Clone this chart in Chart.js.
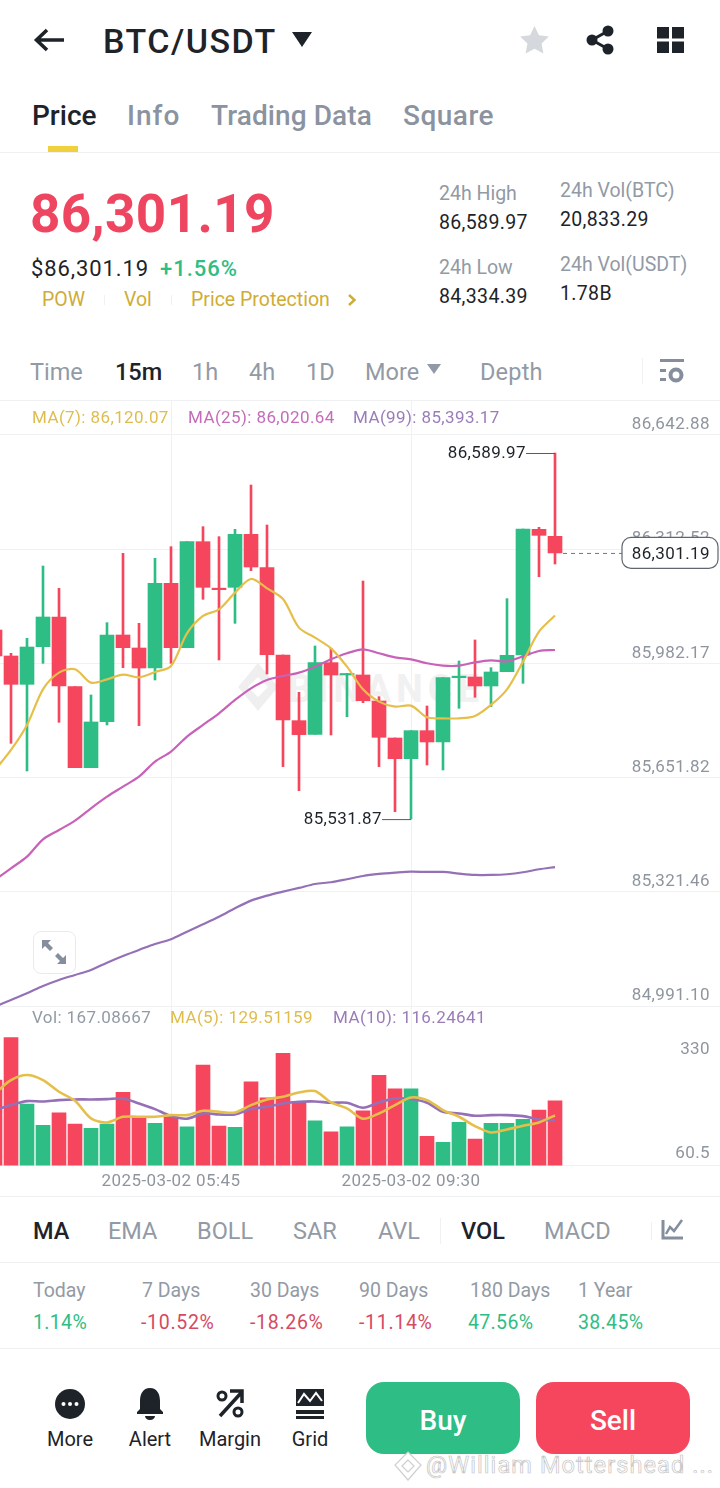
<!DOCTYPE html>
<html><head><meta charset="utf-8">
<script src="https://cdn.jsdelivr.net/npm/chart.js@4"></script>
<style>
html,body{margin:0;padding:0;background:#fff;width:720px;height:1488px;overflow:hidden;font-family:Roboto,sans-serif}
#stage{position:relative;width:720px;height:1488px;overflow:hidden}
.t{position:absolute;white-space:nowrap;transform:translateY(-50%);line-height:1;margin-top:1px}
.c{transform:translate(-50%,-50%)}
.ln{position:absolute;left:0;width:720px;height:1px;background:#eef0f2}
.g{color:#929aa5}.d{color:#1e2329}
.b{position:absolute;background:#f0f1f3;width:1px}
.n{letter-spacing:.35px}
canvas{position:absolute;left:-13px}
svg{position:absolute}
</style></head><body><div id="stage">

<svg style="left:32px;top:26px" width="36" height="28" viewBox="0 0 36 28"><path d="M32 14H5M15 4L4.500 14L15 24" fill="none" stroke="#1e2329" stroke-width="3.600"/></svg>
<div class="t d" style="left:103px;top:40px;font-size:34px;font-weight:500;letter-spacing:1.500px">BTC/USDT</div>
<svg style="left:292px;top:32px" width="20" height="15"><path d="M0 0H20L10 15Z" fill="#1e2329"/></svg>
<svg style="left:518px;top:24px" width="33" height="32" viewBox="0 0 24 24"><path d="M12 1.500l3.300 6.900 7.500 1-5.500 5.200 1.400 7.500L12 18.500l-6.700 3.600 1.400-7.500L1.200 9.400l7.500-1z" fill="#d5d8dc"/></svg>
<svg style="left:584px;top:24px" width="32" height="32" viewBox="0 0 32 32"><path d="M24 7L8 16L24 25" fill="none" stroke="#1e2329" stroke-width="3"/><circle cx="24" cy="7" r="5.500" fill="#1e2329"/><circle cx="8" cy="16" r="5.500" fill="#1e2329"/><circle cx="24" cy="25" r="5.500" fill="#1e2329"/></svg>
<svg style="left:657px;top:27px" width="27" height="26"><rect width="12" height="11.500" fill="#1e2329"/><rect x="15" width="12" height="11.500" fill="#1e2329"/><rect y="14.500" width="12" height="11.500" fill="#1e2329"/><rect x="15" y="14.500" width="12" height="11.500" fill="#1e2329"/></svg>

<div class="t d" style="left:32px;top:115px;font-size:28px;font-weight:500">Price</div>
<div class="t" style="left:127px;top:115px;font-size:28px;font-weight:500;color:#8b93a0;letter-spacing:1px">Info</div>
<div class="t" style="left:211px;top:115px;font-size:28px;font-weight:500;color:#8b93a0;letter-spacing:.1px">Trading Data</div>
<div class="t" style="left:403px;top:115px;font-size:28px;font-weight:500;color:#8b93a0;letter-spacing:.5px">Square</div>
<div style="position:absolute;left:48px;top:146px;width:30px;height:6px;background:#f0d03c"></div>
<div class="ln" style="top:152px"></div>

<div class="t" style="left:30px;top:213px;font-size:53px;font-weight:700;color:#ee4560;letter-spacing:.4px">86,301.19</div>
<div class="t d" style="left:31px;top:268px;font-size:22px;letter-spacing:.9px">$86,301.19</div>
<div class="t" style="left:160px;top:268px;font-size:22px;color:#2ebd85;font-weight:500;letter-spacing:1px">+1.56%</div>
<div class="t" style="left:42px;top:299px;font-size:19.500px;color:#cfac35">POW</div>
<div class="t" style="left:124px;top:299px;font-size:19.500px;color:#cfac35">Vol</div>
<div class="t" style="left:191px;top:299px;font-size:19.500px;color:#cfac35">Price Protection</div>
<div class="b" style="left:104px;top:295px;height:10px"></div>
<div class="b" style="left:171px;top:295px;height:10px"></div>
<svg style="left:347px;top:294px" width="10" height="12"><path d="M2 1L7.500 6L2 11" fill="none" stroke="#cfac35" stroke-width="2.400"/></svg>

<div class="t g" style="left:439px;top:193px;font-size:19.500px">24h High</div>
<div class="t d n" style="left:439px;top:222px;font-size:19.500px">86,589.97</div>
<div class="t g" style="left:560px;top:190px;font-size:19.500px">24h Vol(BTC)</div>
<div class="t d n" style="left:560px;top:219px;font-size:19.500px">20,833.29</div>
<div class="t g" style="left:439px;top:267px;font-size:19.500px">24h Low</div>
<div class="t d n" style="left:439px;top:296px;font-size:19.500px">84,334.39</div>
<div class="t g" style="left:560px;top:264px;font-size:19.500px">24h Vol(USDT)</div>
<div class="t d n" style="left:560px;top:293px;font-size:19.500px">1.78B</div>

<div class="t g" style="left:30px;top:372px;font-size:23.500px">Time</div>
<div class="t d" style="left:115px;top:372px;font-size:23.500px;font-weight:500">15m</div>
<div class="t g" style="left:192px;top:372px;font-size:23.500px">1h</div>
<div class="t g" style="left:249px;top:372px;font-size:23.500px">4h</div>
<div class="t g" style="left:306px;top:372px;font-size:23.500px">1D</div>
<div class="t g" style="left:365px;top:372px;font-size:23.500px">More</div>
<svg style="left:427px;top:364px" width="14" height="10"><path d="M0 0H14L7 10Z" fill="#929aa5"/></svg>
<div class="t g" style="left:480px;top:372px;font-size:23.500px;letter-spacing:.2px">Depth</div>
<div class="b" style="left:642px;top:358px;height:26px"></div>
<svg style="left:660px;top:359px" width="25" height="25"><rect width="24" height="3" fill="#848e9c"/><rect y="10" width="6" height="3" fill="#848e9c"/><rect y="19" width="6" height="3" fill="#848e9c"/><circle cx="16" cy="16" r="5.500" fill="none" stroke="#848e9c" stroke-width="4"/></svg>

<div class="ln" style="top:400px"></div>

<!-- watermark behind the chart -->
<svg style="left:236px;top:661px" width="44" height="52" viewBox="0 0 44 52"><path d="M22 2L42 26L22 50L2 26Z M22 16L12 26L22 36L32 26Z" fill="#efefef" fill-rule="evenodd"/></svg>
<div class="t" style="left:288px;top:688px;font-size:38px;font-weight:700;color:#f1f1f1;letter-spacing:5px">BINANCE</div>

<canvas id="priceChart" width="736" height="608" style="top:400px"></canvas>
<canvas id="volChart" width="736" height="191" style="top:1007px"></canvas>

<div class="t" style="left:32px;top:416px;font-size:17px;letter-spacing:.400px;color:#dfbd4d">MA(7): 86,120.07</div>
<div class="t" style="left:188px;top:416px;font-size:17px;letter-spacing:.400px;color:#c56cb9">MA(25): 86,020.64</div>
<div class="t" style="left:353px;top:416px;font-size:17px;letter-spacing:.400px;color:#9a7cb8">MA(99): 85,393.17</div>

<div style="position:absolute;left:33px;top:931px;width:41px;height:41px;border:1.500px solid #e8eaec;border-radius:8px;background:rgba(255,255,255,.85)"></div>
<svg style="left:41px;top:939px" width="26" height="26" viewBox="0 0 26 26"><path d="M1 1H10L7 4L12 9L9 12L4 7L1 10Z M25 25H16L19 22L14 17L17 14L22 19L25 16Z" fill="#848e9c"/></svg>

<div class="t g" style="left:32px;top:1016px;font-size:17px;letter-spacing:.400px">Vol: 167.08667</div>
<div class="t" style="left:170px;top:1016px;font-size:17px;letter-spacing:.400px;color:#dfbd4d">MA(5): 129.51159</div>
<div class="t" style="left:333px;top:1016px;font-size:17px;letter-spacing:.400px;color:#9a7cb8">MA(10): 116.24641</div>

<div class="ln" style="top:1196px"></div>
<div class="t d" style="left:33px;top:1231px;font-size:23.500px;font-weight:500">MA</div>
<div class="t g" style="left:108px;top:1231px;font-size:23.500px">EMA</div>
<div class="t g" style="left:197px;top:1231px;font-size:23.500px">BOLL</div>
<div class="t g" style="left:293px;top:1231px;font-size:23.500px">SAR</div>
<div class="t g" style="left:378px;top:1231px;font-size:23.500px">AVL</div>
<div class="b" style="left:440px;top:1218px;height:26px"></div>
<div class="t d" style="left:461px;top:1231px;font-size:23.500px;font-weight:500">VOL</div>
<div class="t g" style="left:544px;top:1231px;font-size:23.500px">MACD</div>
<div class="b" style="left:651px;top:1222px;height:18px"></div>
<svg style="left:661px;top:1219px" width="23" height="23" viewBox="0 0 23 23"><path d="M2 1V19H22" fill="none" stroke="#848e9c" stroke-width="3"/><path d="M5 15L9 8L13 12L21 1" fill="none" stroke="#848e9c" stroke-width="2.500"/></svg>
<div class="ln" style="top:1262px"></div>

<div class="t g" style="left:33px;top:1290px;font-size:19.500px">Today</div>
<div class="t g" style="left:142px;top:1290px;font-size:19.500px">7 Days</div>
<div class="t g" style="left:250px;top:1290px;font-size:19.500px">30 Days</div>
<div class="t g" style="left:359px;top:1290px;font-size:19.500px">90 Days</div>
<div class="t g" style="left:470px;top:1290px;font-size:19.500px">180 Days</div>
<div class="t g" style="left:578px;top:1290px;font-size:19.500px">1 Year</div>
<div class="t n" style="left:33px;top:1322px;font-size:19.500px;color:#2ebd85">1.14%</div>
<div class="t" style="left:141px;top:1322px;font-size:19.500px;color:#d64a62;letter-spacing:.7px">-10.52%</div>
<div class="t" style="left:250px;top:1322px;font-size:19.500px;color:#d64a62;letter-spacing:.7px">-18.26%</div>
<div class="t" style="left:359px;top:1322px;font-size:19.500px;color:#d64a62;letter-spacing:.7px">-11.14%</div>
<div class="t n" style="left:468px;top:1322px;font-size:19.500px;color:#2ebd85">47.56%</div>
<div class="t n" style="left:578px;top:1322px;font-size:19.500px;color:#2ebd85">38.45%</div>
<div class="ln" style="top:1348px"></div>

<svg style="left:55px;top:1389px" width="30" height="30"><circle cx="15" cy="15" r="15" fill="#1e2329"/><circle cx="8.500" cy="15" r="2" fill="#fff"/><circle cx="15" cy="15" r="2" fill="#fff"/><circle cx="21.500" cy="15" r="2" fill="#fff"/></svg>
<svg style="left:135px;top:1388px" width="30" height="32" viewBox="0 0 30 32"><path d="M15 0c7 0 10 6 10 13v8l3 3v2H2v-2l3-3v-8C5 6 8 0 15 0z" fill="#1e2329"/><path d="M10 28h10c0 2-2 4-5 4s-5-2-5-4z" fill="#1e2329"/></svg>
<svg style="left:216px;top:1389px" width="28" height="30" viewBox="0 0 28 30"><circle cx="6" cy="7" r="4" fill="none" stroke="#1e2329" stroke-width="3"/><circle cx="22" cy="23" r="4" fill="none" stroke="#1e2329" stroke-width="3"/><path d="M4 27L25 4M14 2H26V14" fill="none" stroke="#1e2329" stroke-width="3.500"/></svg>
<svg style="left:296px;top:1389px" width="28" height="30" viewBox="0 0 28 30"><path d="M0 0H28V17H0Z" fill="#1e2329"/><path d="M2 14L8 5L14 12L20 4L26 12" fill="none" stroke="#fff" stroke-width="2"/><rect y="21" width="28" height="4" fill="#1e2329"/><rect y="27" width="28" height="3" fill="#1e2329"/></svg>
<div class="t c d" style="left:70px;top:1438px;font-size:20px">More</div>
<div class="t c d" style="left:150px;top:1438px;font-size:20px">Alert</div>
<div class="t c d" style="left:230px;top:1438px;font-size:20px">Margin</div>
<div class="t c d" style="left:310px;top:1438px;font-size:20px">Grid</div>

<div style="position:absolute;left:366px;top:1382px;width:154px;height:72px;border-radius:18px;background:#2ebd85"></div>
<div style="position:absolute;left:536px;top:1382px;width:154px;height:72px;border-radius:18px;background:#f6465d"></div>
<div class="t c" style="left:443px;top:1420px;font-size:28px;font-weight:500;color:#fff">Buy</div>
<div class="t c" style="left:613px;top:1420px;font-size:28px;font-weight:500;color:#fff">Sell</div>

<svg style="left:394px;top:1451px" width="28" height="30" viewBox="0 0 28 30"><path d="M14 1L27 14L14 29L1 14Z M14 9L8 15L14 21L20 15Z" fill="#fff" stroke="#cfcfcf" stroke-width="1.200" fill-rule="evenodd"/></svg>
<div class="t" style="left:426px;top:1465px;font-size:23.500px;color:#fff;-webkit-text-stroke:.7px #c4c4c4;letter-spacing:1.100px">@William Mottershead ...</div>

</div>
<script>
// 15-minute candle times, 2025-03-02
const times = ['03:00','03:15','03:30','03:45','04:00','04:15','04:30','04:45','05:00','05:15','05:30','05:45',
  '06:00','06:15','06:30','06:45','07:00','07:15','07:30','07:45','08:00','08:15','08:30','08:45',
  '09:00','09:15','09:30','09:45','10:00','10:15','10:30','10:45','11:00','11:15','11:30','11:45'];
// room to the right of the last candle (empty slots on the time axis)
const emptySlots = ['','','','','','','','','',''];
const labelledTimes = ['05:45','09:30'];
const labelDate = '2025-03-02';

const open = [86078.4,86003.3,85921.4,86030.3,86116.0,85914.7,85680.6,85813.5,86064.0,86026.4,85968.6,86213.3,
  86027.4,86333.7,86198.9,86201.8,86354.9,86258.6,86006.2,85816.4,85776.9,85984.1,85948.4,85948.4,
  85873.2,85766.3,85706.6,85787.5,85754.8,85940.7,85942.6,85916.6,85958.0,86006.2,86369.4,86349.2];
const close = [86003.3,85921.4,86029.3,86116.0,85916.6,85680.6,85812.6,86064.0,86027.4,85968.6,86213.3,86027.4,
  86333.7,86201.8,86195.0,86354.9,86260.5,86007.2,85818.4,85776.0,85984.1,85948.4,85952.3,85874.2,
  85768.3,85706.6,85787.5,85754.8,85940.7,85944.6,85916.6,85957.1,86005.3,86370.3,86352.0,86301.19];
const high = [86078.4,86011.0,86054.4,86263.4,86198.9,85914.7,85890.6,86099.6,86300.0,86097.7,86285.6,86319.3,
  86333.7,86377.1,86348.2,86369.4,86497.5,86381.9,86006.2,85898.3,86032.2,86025.5,85953.2,86220.0,
  85885.8,85766.3,85787.5,85858.8,85940.7,85988.9,86049.6,85969.6,86169.0,86370.3,86375.2,86589.97];
const low = [86003.3,85750.9,85670.9,85982.1,85811.6,85680.6,85680.6,85803.9,85969.6,85802.0,85934.0,85982.1,
  86027.4,86167.1,85991.8,86097.7,86249.9,85951.3,85683.5,85614.1,85776.9,85775.0,85828.0,85868.4,
  85683.5,85553.4,85531.87,85688.3,85673.8,85852.1,85883.9,85856.9,85958.0,85924.3,86232.6,86269.2];

const ma7 = [85673.9,85731.7,85804.0,85907.0,85955.2,85964.8,85926.3,85935.9,85949.4,85941.7,85957.1,85974.5,
  86068.9,86119.0,86138.2,86186.4,86225.9,86198.9,86168.1,86085.2,86056.4,86025.5,85972.5,85907.0,
  85871.4,85856.9,85859.8,85826.1,85823.2,85823.2,85830.0,85861.8,85907.0,85987.0,86073.7,86120.07];
const ma25 = [85356.0,85389.7,85423.4,85473.5,85500.5,85527.5,85563.2,85596.8,85625.7,85654.6,85698.0,85726.9,
  85770.2,85804.0,85837.7,85876.2,85909.9,85934.0,85945.6,85955.2,85972.5,85993.7,86011.1,86022.6,
  86011.1,85999.5,85993.7,85982.2,85975.4,85975.4,85985.0,85990.8,85987.9,86002.4,86017.8,86020.64];
const ma99 = [84989.8,85009.2,85028.5,85049.6,85067.0,85081.4,85095.9,85117.0,85136.3,85153.7,85171.0,85184.6,
  85206.6,85228.0,85249.9,85274.2,85296.2,85310.6,85322.2,85332.9,85344.4,85349.3,85358.0,85367.5,
  85373.3,85377.1,85380.0,85379.1,85379.1,85374.2,85370.4,85370.4,85372.5,85378.2,85386.9,85393.17];

const volume = [220.5,330.0,158.6,103.6,136.2,107.0,95.8,107.0,188.7,124.2,108.7,125.9,
  100.1,259.1,101.8,98.4,216.2,174.9,289.3,164.6,115.6,87.2,100.1,141.4,
  232.5,198.1,198.1,75.2,59.7,111.3,68.3,108.7,108.7,119.0,143.1,167.09];
const volMa5 = [186.1,220.5,233.4,220.5,190.4,167.2,121.6,111.3,125.9,125.9,125.9,130.2,
  130.2,141.4,138.8,137.1,156.0,170.6,177.5,188.7,192.1,162.9,147.4,120.8,
  134.5,156.0,175.8,168.9,143.1,125.9,101.9,85.5,93.3,102.7,111.3,129.51];
const volMa10 = [143.1,156.0,166.3,165.4,168.9,170.6,170.6,171.5,173.2,160.3,145.7,127.6,
  120.8,134.5,131.9,131.9,145.7,151.7,160.3,164.6,165.4,162.0,162.0,149.1,
  162.9,173.2,171.5,162.0,138.8,134.5,128.5,130.2,130.2,127.6,119.0,116.25];

const priceTicks = [86642.88,86312.52,85982.17,85651.82,85321.46,84991.10];
const volTicks = [330,60.5];

const GREEN='#2ebd85', RED='#f6465d', YEL='#e6bf4a', PINK='#c862b8', PUR='#9470b6';
const TICK='#8f959e', GRID='#f0f1f3';
const FONT={family:'Roboto',size:17};
const labels = times.concat(emptySlots);
const colors = open.map((o,i)=> close[i]>=o ? GREEN : RED);
const fmt = v => v.toLocaleString('en-US',{minimumFractionDigits:2,maximumFractionDigits:2});

const spacing = { id:'spacing', beforeDraw(c){ c.ctx.letterSpacing='0.4px'; } };
const keepTimes = s => { s.ticks = labelledTimes.map(t=>({value:times.indexOf(t)})); };
const flatY = s => { s.width=0; s.paddingTop=0; s.paddingBottom=0; };
const flatX = s => { s.paddingLeft=0; s.paddingRight=0; };

function lineSet(data,color,width){
  return {type:'line',data,borderColor:color,borderWidth:width,pointRadius:0,tension:.3,order:1};
}

const annotate = {
  id:'annotate',
  afterDraw(c){
    const {ctx,scales:{x,y}} = c;
    ctx.save();
    ctx.letterSpacing='0.4px';
    ctx.font='17px Roboto';
    ctx.textBaseline='middle';
    // highest high and lowest low
    const hiI = high.indexOf(Math.max(...high)), loI = low.indexOf(Math.min(...low));
    [[hiI,high[hiI]],[loI,low[loI]]].forEach(([i,v])=>{
      const px=x.getPixelForValue(i), py=y.getPixelForValue(v);
      ctx.strokeStyle='#565c66'; ctx.lineWidth=1;
      ctx.beginPath(); ctx.moveTo(px-29,py+.5); ctx.lineTo(px,py+.5); ctx.stroke();
      ctx.fillStyle='#1e2329'; ctx.textAlign='right';
      ctx.fillText(fmt(v),px-29,py+1);
    });
    // last price marker
    const last=close.length-1, lx=x.getPixelForValue(last), ly=y.getPixelForValue(close[last]);
    ctx.strokeStyle='#6f7680'; ctx.lineWidth=1; ctx.setLineDash([4,4]);
    ctx.beginPath(); ctx.moveTo(lx+8,ly+.5); ctx.lineTo(635,ly+.5); ctx.stroke();
    ctx.setLineDash([]);
    ctx.beginPath(); ctx.roundRect(635,ly-15.5,96,31,9);
    ctx.fillStyle='#fff'; ctx.fill();
    ctx.strokeStyle='#5f6670'; ctx.lineWidth=1.2; ctx.stroke();
    ctx.fillStyle='#1e2329'; ctx.textAlign='right';
    ctx.fillText(fmt(close[last]),723,ly+2);
    ctx.restore();
  }
};

new Chart(document.getElementById('priceChart'),{
  data:{labels,datasets:[
    lineSet(ma7,YEL,2.2),lineSet(ma25,PINK,2.2),lineSet(ma99,PUR,2.2),
    {type:'bar',data:open.map((o,i)=>[o,close[i]]),backgroundColor:colors,barThickness:14,minBarLength:1.5,grouped:false,order:2},
    {type:'bar',data:low.map((l,i)=>[l,high[i]]),backgroundColor:colors,barThickness:2,grouped:false,order:3}
  ]},
  options:{
    responsive:false,animation:false,
    layout:{padding:0,autoPadding:false},
    plugins:{legend:{display:false},tooltip:{enabled:false}},
    scales:{
      x:{type:'category',offset:true,afterBuildTicks:keepTimes,afterFit:flatX,
        border:{display:false},
        grid:{offset:false,color:GRID,drawTicks:false},
        ticks:{display:false,autoSkip:false}},
      y:{position:'right',min:84985.9,max:86743.2,afterBuildTicks:s=>{s.ticks=priceTicks.map(value=>({value}));},afterFit:flatY,
        border:{display:false},
        grid:{color:GRID,drawTicks:false},
        ticks:{mirror:true,padding:-13,labelOffset:-10,autoSkip:false,color:TICK,font:FONT,callback:fmt}}
    }
  },
  plugins:[spacing,annotate]
});

new Chart(document.getElementById('volChart'),{
  data:{labels,datasets:[
    lineSet(volMa5,YEL,2.6),lineSet(volMa10,PUR,2.6),
    {type:'bar',data:volume,backgroundColor:colors,barThickness:14,grouped:false,order:2}
  ]},
  options:{
    responsive:false,animation:false,
    layout:{padding:0,autoPadding:false},
    plugins:{legend:{display:false},tooltip:{enabled:false}},
    scales:{
      x:{type:'category',offset:true,afterBuildTicks:keepTimes,afterFit:flatX,
        border:{display:true,color:GRID,width:1},
        grid:{offset:false,color:GRID,drawTicks:false},
        ticks:{autoSkip:false,maxRotation:0,padding:6,color:TICK,font:FONT,
          callback(v){return labelDate+' '+this.getLabelForValue(v);}}},
      y:{position:'right',min:0,max:408.9,afterBuildTicks:s=>{s.ticks=volTicks.map(value=>({value}));},afterFit:flatY,
        border:{display:false},
        grid:{display:false},
        ticks:{mirror:true,padding:-13,labelOffset:12,autoSkip:false,color:TICK,font:FONT,callback:v=>String(v)}}
    }
  },
  plugins:[spacing]
});
</script>
</body></html>
